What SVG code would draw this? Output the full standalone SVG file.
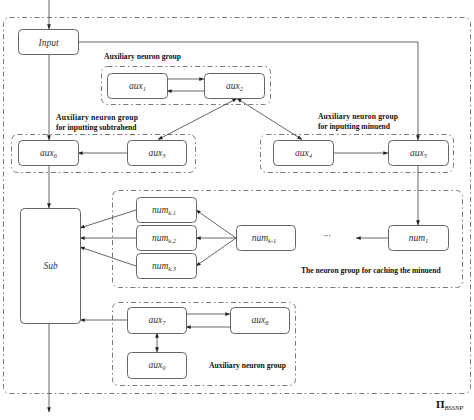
<svg xmlns="http://www.w3.org/2000/svg" width="474" height="420" viewBox="0 0 474 420">
<style>
.grp{fill:none;stroke:#777;stroke-width:1;stroke-dasharray:5 3 1.5 3}
.node{fill:#fff;stroke:#666;stroke-width:1}
.lbl{font-family:"Liberation Serif",serif;font-style:italic;font-size:9.5px;fill:#333;text-anchor:middle}
.sub{font-size:6.5px}
.gl{font-family:"Liberation Serif",serif;font-weight:bold;font-size:7.6px;fill:#111}
.c{fill:none;stroke:#555;stroke-width:0.9}
</style>
<defs>
<marker id="a" viewBox="0 0 8 8" refX="7.5" refY="4" markerWidth="5" markerHeight="5" orient="auto-start-reverse" markerUnits="userSpaceOnUse">
<path d="M0,1 L8,4 L0,7 z" fill="#222"/>
</marker>
</defs>
<rect x="3.5" y="17.5" width="467" height="376" rx="6" class="grp"/>
<g id="groups">
<rect x="101.5" y="66.5" width="169" height="38" rx="6" class="grp"/>
<rect x="11.5" y="134.5" width="184" height="38" rx="6" class="grp"/>
<rect x="260.5" y="134.5" width="193" height="38" rx="6" class="grp"/>
<rect x="112.5" y="190.5" width="350" height="97" rx="6" class="grp"/>
<rect x="112.5" y="302.5" width="183" height="83" rx="6" class="grp"/>
</g>
<g id="group-labels">
<text class="gl" x="104" y="59">Auxiliary neuron group</text>
<text class="gl" x="56" y="120" textLength="82" lengthAdjust="spacing">Auxiliary neuron group</text>
<text class="gl" x="56" y="130">for inputting subtrahend</text>
<text class="gl" x="318" y="119" textLength="80" lengthAdjust="spacing">Auxiliary neuron group</text>
<text class="gl" x="318" y="129">for inputting minuend</text>
<text class="gl" x="301" y="273">The neuron group for caching the minuend</text>
<text class="gl" x="209" y="368">Auxiliary neuron group</text>
<text font-family="Liberation Serif,serif" font-weight="bold" font-size="11" fill="#111" x="436" y="408">Π<tspan font-size="6.5" font-style="italic" font-weight="normal" dy="2">BSSNP</tspan></text>
</g>
<g id="connectors">
<path class="c" d="M49,0 V29" marker-end="url(#a)"/>
<path class="c" d="M79,42 H418 V140" marker-end="url(#a)"/>
<path class="c" d="M49,54 V140" marker-end="url(#a)"/>
<path class="c" d="M167,79 H204" marker-end="url(#a)"/>
<path class="c" d="M204,91 H167" marker-end="url(#a)"/>
<path class="c" d="M237,98.5 L158,139.5" marker-start="url(#a)" marker-end="url(#a)"/>
<path class="c" d="M237,98.5 L302,139.5" marker-start="url(#a)" marker-end="url(#a)"/>
<path class="c" d="M127,153 H78" marker-end="url(#a)"/>
<path class="c" d="M333,153 H388" marker-end="url(#a)"/>
<path class="c" d="M49,165 V208" marker-end="url(#a)"/>
<path class="c" d="M418,165 V225" marker-end="url(#a)"/>
<path class="c" d="M388,238 H356" marker-end="url(#a)"/>
<path class="c" d="M236,238 L196,210" marker-end="url(#a)"/>
<path class="c" d="M236,238 H196" marker-end="url(#a)"/>
<path class="c" d="M236,238 L196,266" marker-end="url(#a)"/>
<path class="c" d="M136,210 L80,228" marker-end="url(#a)"/>
<path class="c" d="M136,238 H80" marker-end="url(#a)"/>
<path class="c" d="M136,266 L80,247" marker-end="url(#a)"/>
<path class="c" d="M127,320 H80" marker-end="url(#a)"/>
<path class="c" d="M186,314 H230" marker-end="url(#a)"/>
<path class="c" d="M230,327 H186" marker-end="url(#a)"/>
<path class="c" d="M157,333 V352" marker-start="url(#a)" marker-end="url(#a)"/>
<path class="c" d="M49,323 V412" marker-end="url(#a)"/>
</g>
<g id="input"><rect class="node" x="18.5" y="29.5" width="60" height="25" rx="4"/><text class="lbl" x="48.5" y="45.5">Input</text></g>
<g id="aux1"><rect class="node" x="107.5" y="73.5" width="60" height="25" rx="4"/><text class="lbl" x="137.5" y="89">aux<tspan class="sub" dy="2">1</tspan></text></g>
<g id="aux2"><rect class="node" x="204.5" y="73.5" width="60" height="25" rx="4"/><text class="lbl" x="234.5" y="89">aux<tspan class="sub" dy="2">2</tspan></text></g>
<g id="aux6"><rect class="node" x="18.5" y="140.5" width="60" height="25" rx="4"/><text class="lbl" x="48.5" y="156">aux<tspan class="sub" dy="2">6</tspan></text></g>
<g id="aux3"><rect class="node" x="127.5" y="140.5" width="59" height="25" rx="4"/><text class="lbl" x="157" y="156">aux<tspan class="sub" dy="2">3</tspan></text></g>
<g id="aux4"><rect class="node" x="273.5" y="140.5" width="60" height="25" rx="4"/><text class="lbl" x="303.5" y="156">aux<tspan class="sub" dy="2">4</tspan></text></g>
<g id="aux5"><rect class="node" x="388.5" y="140.5" width="60" height="25" rx="4"/><text class="lbl" x="418.5" y="156">aux<tspan class="sub" dy="2">5</tspan></text></g>
<g id="sub"><rect class="node" x="20.5" y="208.5" width="60" height="115" rx="4"/><text class="lbl" x="50.5" y="269">Sub</text></g>
<g id="numk1"><rect class="node" x="136.5" y="197.5" width="60" height="25" rx="4"/><text class="lbl" x="164" y="213">num<tspan class="sub" dy="2">k.1</tspan></text></g>
<g id="numk2"><rect class="node" x="136.5" y="225.5" width="60" height="25" rx="4"/><text class="lbl" x="164" y="241">num<tspan class="sub" dy="2">k.2</tspan></text></g>
<g id="numk3"><rect class="node" x="136.5" y="253.5" width="60" height="25" rx="4"/><text class="lbl" x="164" y="269">num<tspan class="sub" dy="2">k.3</tspan></text></g>
<g id="numkm1"><rect class="node" x="236.5" y="225.5" width="59" height="25" rx="4"/><text class="lbl" x="264" y="241">num<tspan class="sub" dy="2">k-1</tspan></text></g>
<g id="dots"><text class="lbl" x="327" y="239">···</text></g>
<g id="num1"><rect class="node" x="388.5" y="225.5" width="60" height="25" rx="4"/><text class="lbl" x="418.5" y="241">num<tspan class="sub" dy="2">1</tspan></text></g>
<g id="aux7"><rect class="node" x="127.5" y="307.5" width="59" height="26" rx="4"/><text class="lbl" x="157" y="323">aux<tspan class="sub" dy="2">7</tspan></text></g>
<g id="aux8"><rect class="node" x="230.5" y="307.5" width="59" height="26" rx="4"/><text class="lbl" x="260" y="323">aux<tspan class="sub" dy="2">8</tspan></text></g>
<g id="aux9"><rect class="node" x="127.5" y="352.5" width="59" height="26" rx="4"/><text class="lbl" x="157" y="368">aux<tspan class="sub" dy="2">9</tspan></text></g>
</svg>
